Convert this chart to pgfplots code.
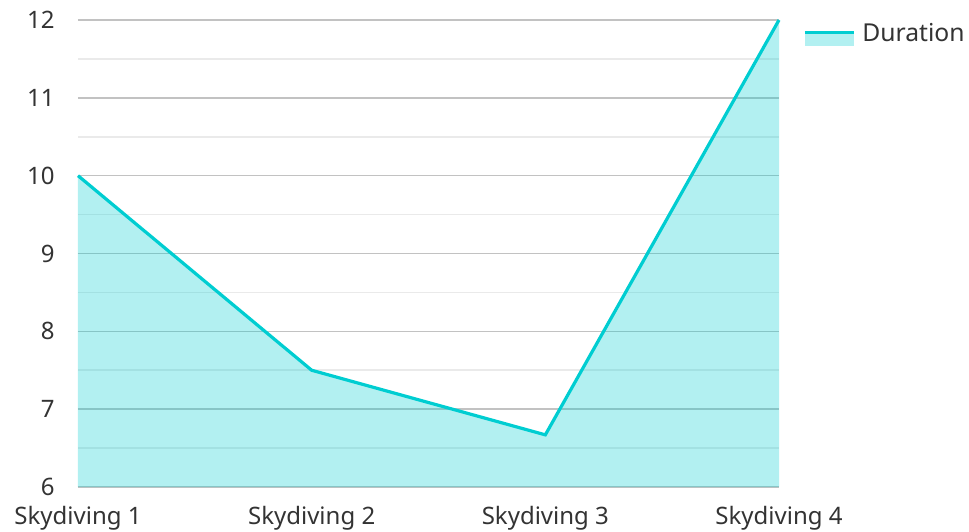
\documentclass[border=0pt]{standalone}
\usepackage{pgfplots}
\pgfplotsset{compat=1.18}
\usepackage{fontspec}
\setmainfont{Noto Sans}
\definecolor{linec}{HTML}{00CDD1}
\definecolor{majgrid}{HTML}{C2C2C2}
\definecolor{mingrid}{HTML}{EAEAEA}
\definecolor{tickc}{HTML}{333333}
\begin{document}
\begin{tikzpicture}
\useasboundingbox (0pt,0pt) rectangle (726.75pt,398.25pt);
\begin{axis}[
  at={(58.5pt,33pt)}, anchor=south west,
  scale only axis, width=525.75pt, height=350.25pt,
  xmin=0, xmax=3, ymin=6, ymax=12,
  xtick={0,1,2,3},
  xticklabels={Skydiving 1,Skydiving 2,Skydiving 3,Skydiving 4},
  ytick={6,7,8,9,10,11,12},
  minor ytick={6.5,7.5,8.5,9.5,10.5,11.5},
  ymajorgrids, yminorgrids,
  major grid style={majgrid, line width=1.2pt},
  minor grid style={mingrid, line width=1.2pt},
  axis line style={draw=none},
  major tick length=0pt, minor tick length=0pt,
  tick style={draw=none},
  ticklabel style={font=\fontsize{18}{21}\selectfont, text=tickc},
  /pgf/number format/assume math mode=true,
  yticklabel style={xshift=-14pt},
  xticklabel style={yshift=-11pt},
  clip=false,
  legend style={at={(1.034,0.969)}, anchor=west, draw=none, fill=none,
    font=\fontsize{18.5}{21}\selectfont, text=tickc, inner sep=0pt,
    nodes={inner sep=0pt, outer sep=0pt}},
  legend cell align=left,
]
\addplot[draw=none, fill=linec, fill opacity=0.3, forget plot]
  coordinates {(0,10) (1,7.5) (2,6.67) (3,12)} \closedcycle;
\addplot[draw=linec, line width=2.4pt,
  legend image code/.code={
    \path[draw=none, fill=linec, fill opacity=0.3] (0pt,-9.5pt) rectangle (37pt,1.5pt);
    \path[draw=linec, line width=2.5pt] (0pt,0.5pt) -- (37pt,0.5pt);
    \path (42pt,0pt);
  }]
  coordinates {(0,10) (1,7.5) (2,6.67) (3,12)};
\addlegendentry{Duration}
\end{axis}
\end{tikzpicture}
\end{document}
